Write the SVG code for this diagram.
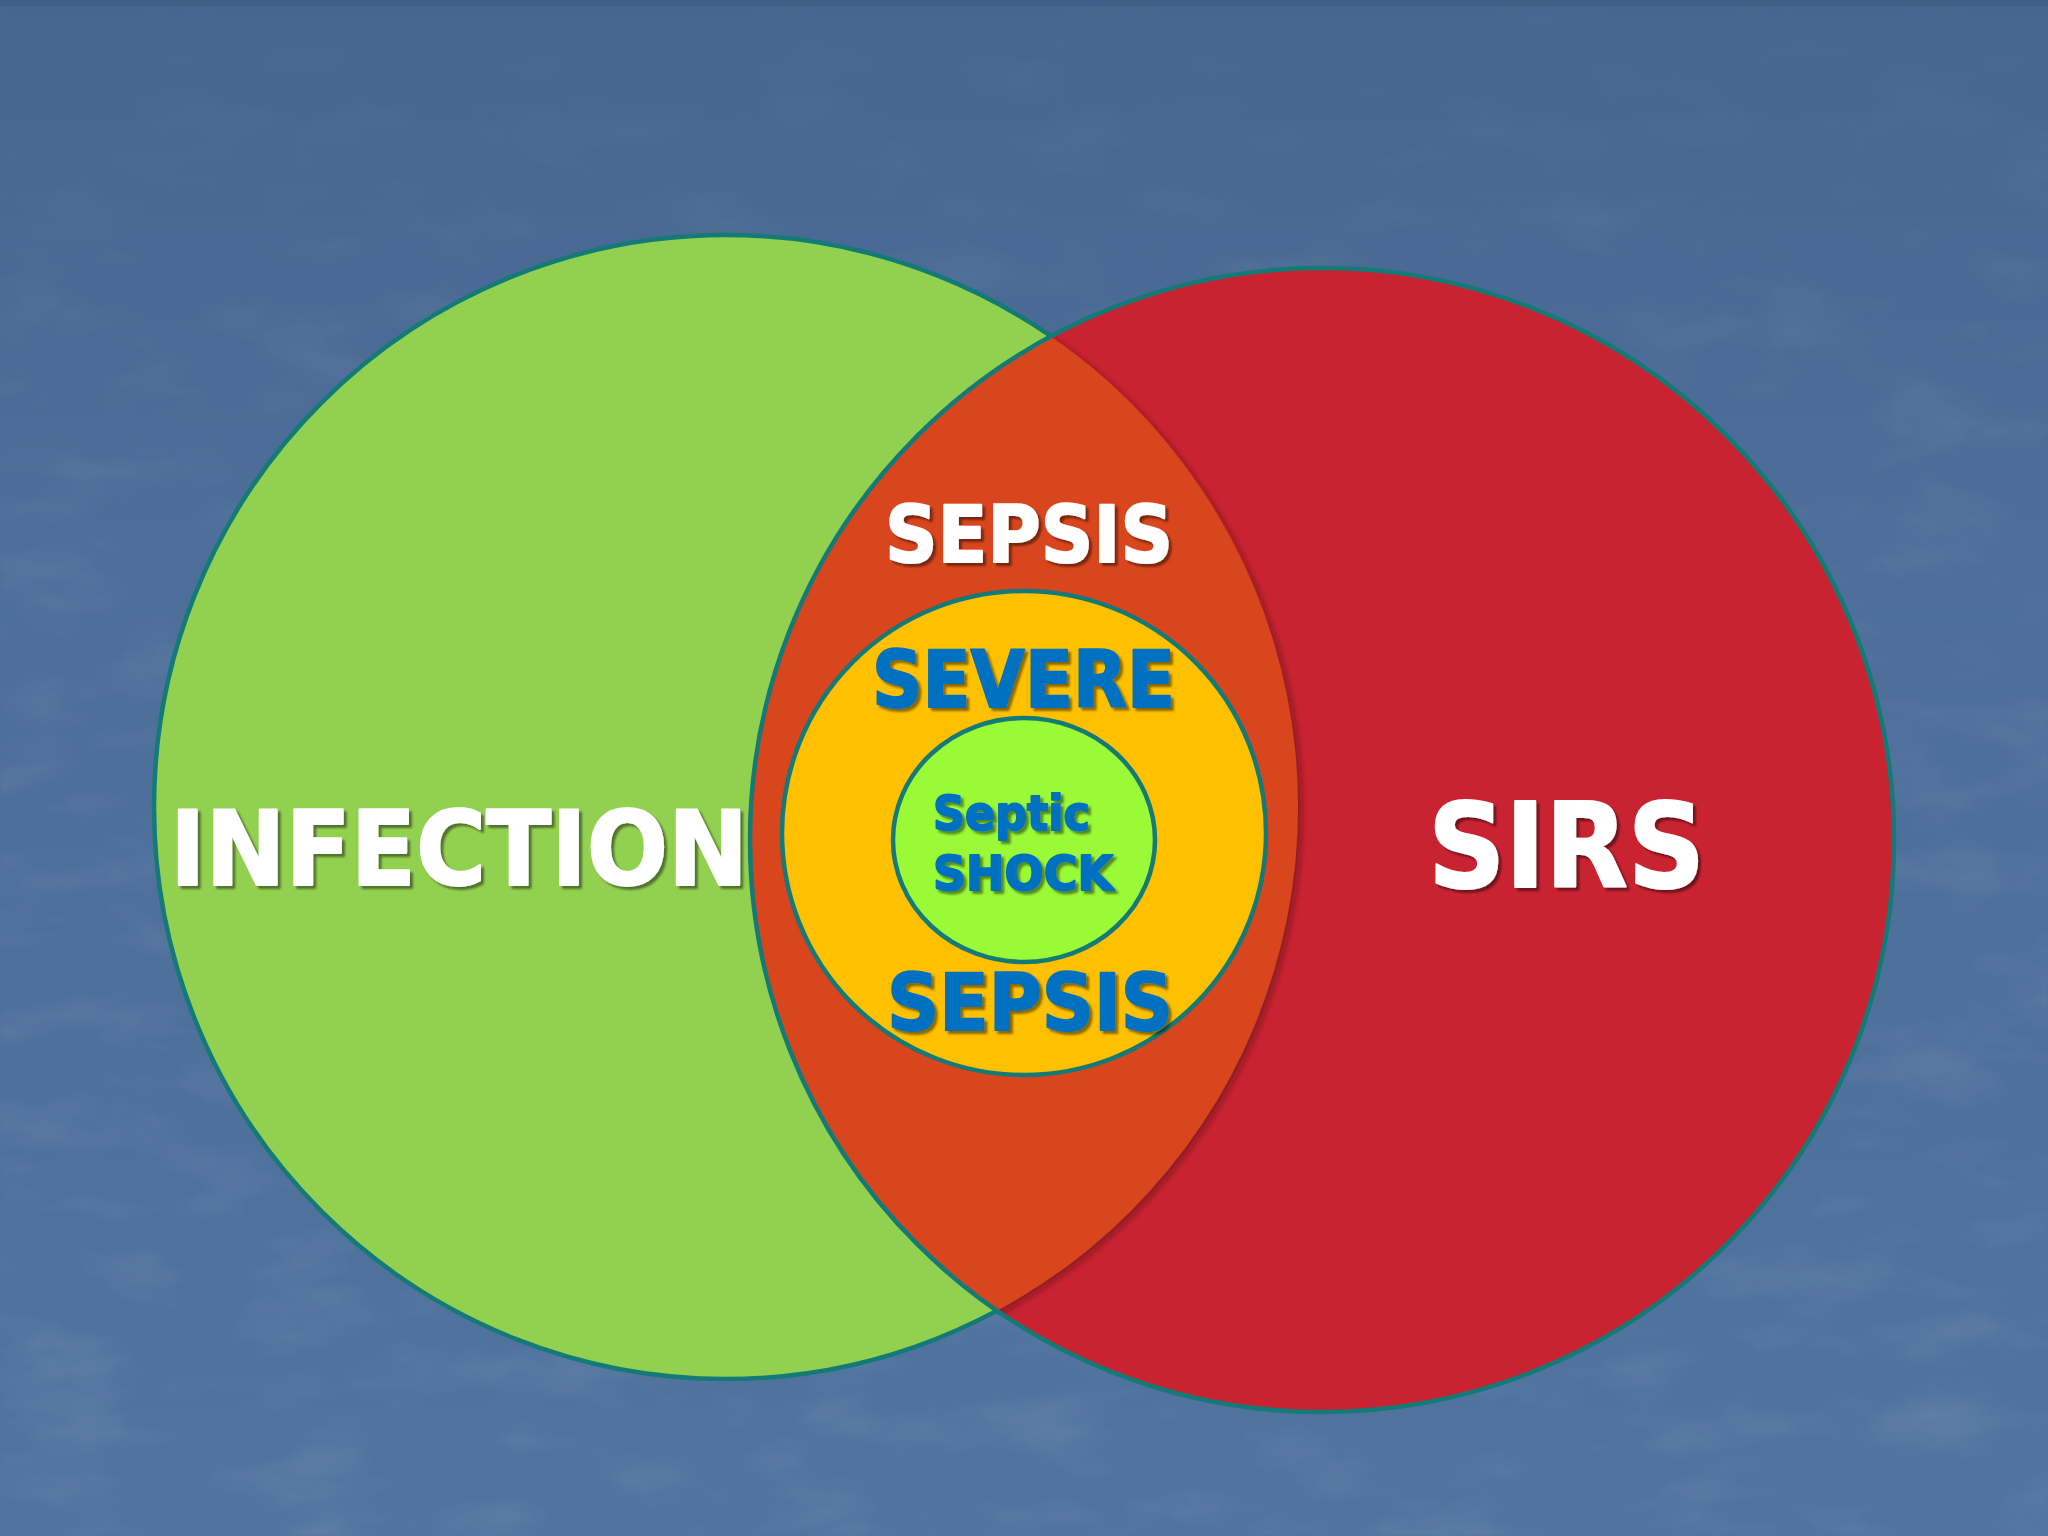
<svg xmlns="http://www.w3.org/2000/svg" width="2048" height="1536" viewBox="0 0 2048 1536">
  <defs>
    <linearGradient id="bg" x1="0" y1="0" x2="0" y2="1">
      <stop offset="0" stop-color="#46668f"/>
      <stop offset="0.35" stop-color="#4c6e99"/>
      <stop offset="1" stop-color="#50749f"/>
    </linearGradient>
    <linearGradient id="texFade" x1="0" y1="0" x2="0" y2="1">
      <stop offset="0" stop-color="#fff" stop-opacity="0.2"/>
      <stop offset="0.25" stop-color="#fff" stop-opacity="0.8"/>
      <stop offset="1" stop-color="#fff" stop-opacity="1"/>
    </linearGradient>
    <mask id="texMask">
      <rect x="0" y="0" width="2048" height="1536" fill="url(#texFade)"/>
    </mask>
    <filter id="tex" x="0" y="0" width="100%" height="100%">
      <feTurbulence type="fractalNoise" baseFrequency="0.008 0.02" numOctaves="4" seed="11" result="n"/>
      <feColorMatrix in="n" type="matrix" values="0 0 0 0 1  0 0 0 0 1  0 0 0 0 1  0 0 0 1.3 -0.6"/>
      <feGaussianBlur stdDeviation="1.5"/>
    </filter>
    <filter id="ts" x="-10%" y="-20%" width="130%" height="150%">
      <feDropShadow dx="3" dy="3" stdDeviation="1.3" flood-color="#000" flood-opacity="0.45"/>
    </filter>
    <filter id="ls" x="-20%" y="-20%" width="140%" height="140%">
      <feDropShadow dx="4" dy="3" stdDeviation="3" flood-color="#5a0a10" flood-opacity="0.55"/>
    </filter>
    <clipPath id="redClip">
      <circle cx="1322" cy="840" r="572"/>
    </clipPath>
    <style>
      .ring { stroke: #137a78; stroke-width: 4.5; }
      .big { font-family: "DejaVu Sans", "Liberation Sans", sans-serif; font-weight: bold; stroke-width: 2; stroke-linejoin: round; }
      .white { fill: #ffffff; stroke: #ffffff; }
      .blue { fill: #0070c0; stroke: #0070c0; }
    </style>
  </defs>

  <g id="background">
    <rect x="0" y="0" width="2048" height="1536" fill="url(#bg)"/>
    <g mask="url(#texMask)">
      <rect x="0" y="0" width="2048" height="1536" filter="url(#tex)" opacity="0.13"/>
    </g>
    <rect x="0" y="0" width="2048" height="6" fill="#405f86"/>
  </g>

  <g id="infection">
    <circle cx="726" cy="807" r="572" fill="#92d050" class="ring"/>
  </g>

  <g id="sirs">
    <circle cx="1322" cy="840" r="572" fill="#c92332"/>
  </g>

  <g id="sepsis">
    <g clip-path="url(#redClip)">
      <circle cx="726" cy="807" r="572" fill="#d9441c" filter="url(#ls)"/>
    </g>
    <circle cx="1322" cy="840" r="572" fill="none" class="ring"/>
  </g>

  <g id="severe-sepsis">
    <circle cx="1024" cy="833" r="242" fill="#ffc000" class="ring"/>
  </g>

  <g id="septic-shock">
    <ellipse cx="1024" cy="840" rx="131" ry="122" fill="#99fa35" class="ring"/>
  </g>

  <g id="labels" filter="url(#ts)">
    <text class="big white" x="170" y="885" font-size="104" textLength="578" lengthAdjust="spacingAndGlyphs">INFECTION</text>
    <text class="big white" x="1428" y="887" font-size="117" textLength="277" lengthAdjust="spacingAndGlyphs">SIRS</text>
    <text class="big white" x="885" y="562" font-size="78" textLength="288" lengthAdjust="spacingAndGlyphs">SEPSIS</text>
    <text class="big blue" x="872" y="707" font-size="78" textLength="303" lengthAdjust="spacingAndGlyphs">SEVERE</text>
    <text class="big blue" x="887" y="1030" font-size="78" textLength="286" lengthAdjust="spacingAndGlyphs">SEPSIS</text>
    <text class="big blue" x="933" y="830" font-size="48" textLength="157" lengthAdjust="spacingAndGlyphs" stroke-width="1.2">Septic</text>
    <text class="big blue" x="933" y="890" font-size="48" textLength="180" lengthAdjust="spacingAndGlyphs" stroke-width="1.2">SHOCK</text>
  </g>
</svg>
